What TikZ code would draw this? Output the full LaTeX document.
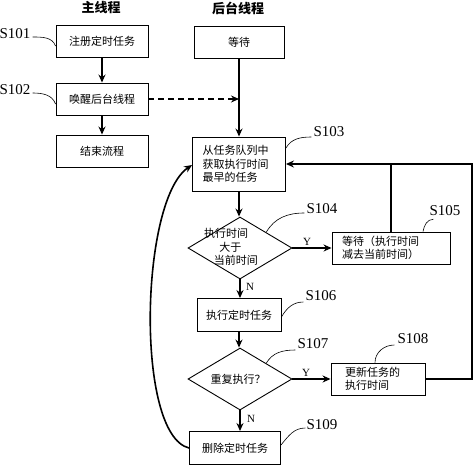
\documentclass[tikz,border=0pt]{standalone}
\usepackage{fontspec}
\setmainfont{Liberation Serif}
\newfontfamily\cjk{Noto Sans CJK SC}
\usetikzlibrary{shapes.geometric,arrows.meta}
\begin{document}
\begin{tikzpicture}[x=1pt,y=-1pt,
    box/.style={draw,line width=0.9pt,minimum width=92pt,minimum height=32pt,inner sep=0pt,
      font=\cjk\fontsize{11}{13.5}\selectfont},
    dec/.style={draw,line width=0.9pt,diamond,minimum width=104pt,minimum height=62pt,inner sep=0pt},
    txt/.style={font=\cjk\fontsize{11}{13.5}\selectfont,inner sep=0pt},
    hd/.style={font=\cjk\bfseries\fontsize{13}{13}\selectfont,inner sep=0pt},
    stp/.style={font=\fontsize{15}{15}\selectfont,inner sep=0pt},
    yn/.style={font=\fontsize{11}{11}\selectfont,inner sep=0pt},
    flow/.style={line width=1.6pt,-{Stealth[length=8pt,width=7pt]}},
    lead/.style={line width=0.6pt}]
  \useasboundingbox (0,0) rectangle (474,464);
  % headers
  \node[hd] (hmain) at (101,8) {主线程};
  \node[hd] (hbg) at (238,8) {后台线程};
  % main thread
  \node[box] (s101) at (102,41) {注册定时任务};
  \node[box] (s102) at (102,99) {唤醒后台线程};
  \node[box] (fin) at (102,151) {结束流程};
  \node[stp] (l101) at (15,34) {S101};
  \node[stp] (l102) at (15,90) {S102};
  % background thread
  \node[box,minimum width=90pt] (wait) at (239,42) {等待};
  \node[box,minimum width=93pt,minimum height=54pt,text width=73pt,align=left] (s103) at (239,164)
    {从任务队列中\\获取执行时间\\最早的任务};
  \node[dec] (s104) at (240,248) {};
  \node[txt,align=left] (t104) at (231,247) {执行时间\\\hspace{1.4em}大于\\\hspace{0.9em}当前时间};
  \node[box,minimum width=118pt,text width=98pt,align=left] (s105) at (391,248)
    {等待（执行时间\\减去当前时间）};
  \node[box,minimum width=84pt,minimum height=33pt] (s106) at (239,315) {执行定时任务};
  \node[dec] (s107) at (240,379) {};
  \node[txt] (t107) at (238,379) {重复执行？};
  \node[box,minimum width=94pt,text width=66pt,align=left] (s108) at (378,379)
    {更新任务的\\执行时间};
  \node[box,minimum width=91pt,minimum height=33pt] (s109) at (235,448) {删除定时任务};
  % step labels
  \node[stp] (l103) at (329,132) {S103};
  \node[stp] (l104) at (322,209) {S104};
  \node[stp] (l105) at (445,211) {S105};
  \node[stp] (l106) at (321,296) {S106};
  \node[stp] (l107) at (313,344) {S107};
  \node[stp] (l108) at (413,339) {S108};
  \node[stp] (l109) at (322,425) {S109};
  \node[yn] (y1) at (307,242) {Y};
  \node[yn] (y2) at (306,373) {Y};
  \node[yn] (n1) at (250,287) {N};
  \node[yn] (n2) at (251,419) {N};
  % leaders
  \draw[lead] ([xshift=2pt,yshift=-3pt]l101.east) to[out=0,in=110] ([yshift=-5pt]s101.west);
  \draw[lead] ([xshift=2pt,yshift=-3pt]l102.east) to[out=0,in=110] ([yshift=-5pt]s102.west);
  \draw[lead] ([yshift=16pt]s103.east) to[out=60,in=180] ([xshift=-2pt,yshift=-5pt]l103.west);
  \draw[lead] (s104.north east) to[out=60,in=180] ([xshift=-2pt,yshift=-4pt]l104.west);
  \draw[lead] ([xshift=32pt]s105.north) to[out=80,in=180] ([xshift=4pt,yshift=-3pt]l105.south west);
  \draw[lead] ([yshift=-2pt]s106.east) to[out=60,in=180] ([xshift=-2pt,yshift=-6pt]l106.west);
  \draw[lead] (s107.north east) to[out=60,in=180] ([xshift=-2pt,yshift=-6pt]l107.west);
  \draw[lead] ([xshift=-3pt]s108.north) to[out=90,in=180] ([xshift=-3pt,yshift=-6pt]l108.west);
  \draw[lead] ([yshift=3pt]s109.east) to[out=50,in=180] ([xshift=-1pt,yshift=-3pt]l109.west);
  % flow
  \draw[flow] (s101) -- (s102);
  \draw[flow] (s102) -- (fin);
  \draw[flow,line width=1.2pt,dash pattern=on 6pt off 4pt] (s102.east) -- (s102.east -| wait.south);
  \draw[flow] (wait) -- (s103);
  \draw[flow] (s103.south) -- (s103.south |- s104.north);
  \draw[flow] (s104.east) -- (s105.west);
  \draw[flow] (s104.south) -- (s104.south |- s106.north);
  \draw[flow] (s106.south) -- (s106.south |- s107.north);
  \draw[flow] (s107.east) -- (s108.west);
  \draw[flow] (s107.south) -- (s107.south |- s109.north);
  \coordinate (rt) at (472,164);
  \draw[flow] (s108.east) -| (rt) -- (s103.east);
  \draw[line width=1.6pt] (s105.north) -- (s105.north |- s103.east);
  \draw[flow] (s109.west) .. controls (135,435) and (140,200) .. ([yshift=-1pt]s103.west);
\end{tikzpicture}
\end{document}
